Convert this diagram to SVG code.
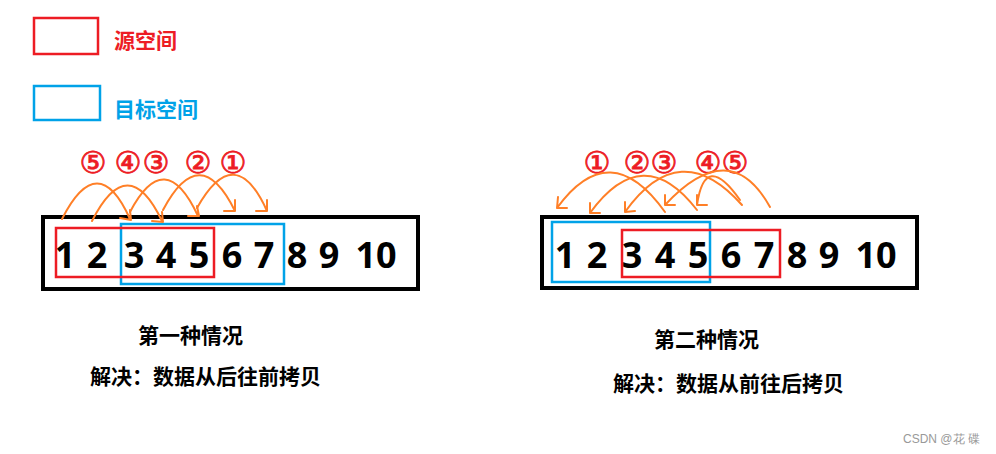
<svg xmlns="http://www.w3.org/2000/svg" width="996" height="454" viewBox="0 0 996 454">
<style>
.blk{fill:none;stroke:#000;stroke-width:4}
.red{fill:none;stroke:#ED1C24;stroke-width:2.5}
.blue{fill:none;stroke:#00A2E8;stroke-width:2.5}
.dg{font-family:"Open Sans","DejaVu Sans",sans-serif;font-weight:bold;font-size:36px;fill:#000;text-anchor:middle}
.cn{font-family:"Noto Sans CJK SC",sans-serif;font-weight:bold;font-size:21px;fill:#000}
.circ{font-family:"DejaVu Sans",sans-serif;font-size:30px;fill:#ED1C24;stroke:#ED1C24;stroke-width:0.8;text-anchor:middle}
.arc{fill:none;stroke:#FF7F27;stroke-width:2;stroke-linecap:round;stroke-linejoin:round}
</style>
<rect width="996" height="454" fill="#fff"/>
<g id="legend">
<rect class="red" x="34" y="18" width="64" height="36"/>
<text x="114" y="48" font-family="Noto Sans CJK SC,sans-serif" font-weight="bold" font-size="21" fill="#ED1C24">源空间</text>
<rect class="blue" x="34" y="86" width="66" height="34"/>
<text x="114" y="117" font-family="Noto Sans CJK SC,sans-serif" font-weight="bold" font-size="21" fill="#00A2E8">目标空间</text>
</g>
<g id="case1">
<rect class="blk" x="43" y="217" width="375" height="72"/>
<rect class="blue" x="121" y="224" width="163" height="60"/>
<rect class="red" x="56" y="228" width="158" height="49"/>
<g class="dg"><text x="65" y="268">1</text><text x="97" y="268">2</text><text x="134" y="268">3</text><text x="166" y="268">4</text><text x="199" y="268">5</text><text x="232" y="268">6</text><text x="264" y="268">7</text><text x="297" y="268">8</text><text x="329" y="268">9</text><text x="376" y="268">10</text></g>
<g class="circ"><text x="93" y="173">⑤</text><text x="128" y="173">④</text><text x="156" y="173">③</text><text x="198" y="173">②</text><text x="233" y="173">①</text></g>
<text class="cn" x="138" y="343">第一种情况</text>
<text class="cn" x="90" y="384">解决：数据从后往前拷贝</text>
</g>
<g id="case2">
<rect class="blk" x="542" y="217" width="375" height="71"/>
<rect class="blue" x="552" y="222" width="158" height="60"/>
<rect class="red" x="622" y="230" width="158" height="47"/>
<g class="dg"><text x="565" y="268">1</text><text x="597" y="268">2</text><text x="632" y="268">3</text><text x="665" y="268">4</text><text x="698" y="268">5</text><text x="731" y="268">6</text><text x="764" y="268">7</text><text x="797" y="268">8</text><text x="829" y="268">9</text><text x="876" y="268">10</text></g>
<g class="circ"><text x="597" y="173">①</text><text x="637" y="173">②</text><text x="664" y="173">③</text><text x="708" y="173">④</text><text x="735" y="173">⑤</text></g>
<text class="cn" x="654" y="347">第二种情况</text>
<text class="cn" x="613" y="391">解决：数据从前往后拷贝</text>
</g>
<g id="connectors" class="arc">
<path d="M62 219 Q98 148 130 219 M120 218 L131 220 L130 210"/>
<path d="M92 221 Q128 150 162 221 M152 221 L163 222 L162 212"/>
<path d="M130 212 Q165 145 198 216 M188 216 L199 216 L197 206"/>
<path d="M163 210 Q200 140 235 211 M224 211 L235 211 L235 200"/>
<path d="M197 208 Q235 140 267 211 M256 211 L267 211 L267 200"/>
<path d="M665 212 Q610 135 557 208 M558 197 L557 208 L567 208"/>
<path d="M697 210 Q643 140 590 213 M590 203 L590 213 L600 213"/>
<path d="M742 205 Q680 135 625 212 M625 202 L625 212 L635 211"/>
<path d="M770 207 Q730 135 665 205 M665 195 L665 205 L675 205"/>
<path d="M740 200 Q705 150 697 205 M697 195 L697 205 L707 205"/>
</g>
<text x="903" y="443" font-family="Liberation Sans,sans-serif" font-size="12" fill="#999">CSDN @花 碟</text>
</svg>
